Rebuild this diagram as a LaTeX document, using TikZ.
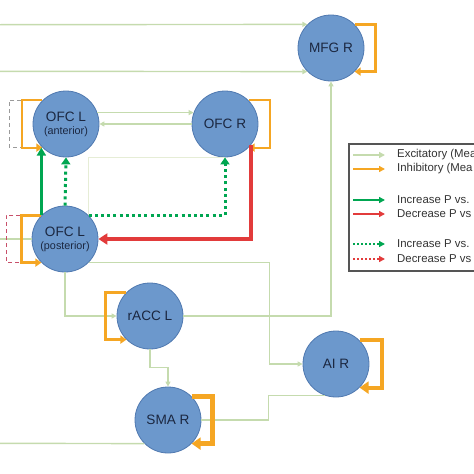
\documentclass[tikz,border=0pt]{standalone}
\usepackage{fontspec}
\setmainfont{Liberation Sans}
\usepackage{xcolor}
\usetikzlibrary{arrows.meta}

\definecolor{regiaoazul}{HTML}{6C98CC}
\definecolor{bordaazul}{HTML}{5079B0}
\definecolor{textoazul}{HTML}{1B2740}
\definecolor{excverde}{HTML}{C5DBAE}
\definecolor{fracoverde}{HTML}{E6EDD6}
\definecolor{inibaranja}{HTML}{F5A623}
\definecolor{aumverde}{HTML}{00A651}
\definecolor{quedaverm}{HTML}{E23B3B}
\definecolor{cinzatrac}{HTML}{9A9A9A}
\definecolor{vermtrac}{HTML}{C8506A}
\definecolor{legcinza}{HTML}{555555}

\newcommand{\subregiao}[1]{{\fontsize{10.8}{12}\selectfont #1}}

\begin{document}
\begin{tikzpicture}[x=1pt,y=-1pt,
    regiao/.style={circle,draw=bordaazul,line width=0.8pt,fill=regiaoazul,
        minimum size=66pt,inner sep=0pt,align=center,text=textoazul,
        font=\fontsize{13.6}{13}\selectfont},
    excit/.style={draw=excverde,line width=1.4pt,-{Triangle[length=5pt,width=5pt]}},
    fraca/.style={draw=fracoverde,line width=1.2pt},
    inib/.style={draw=inibaranja,line width=2.2pt,-{Triangle[length=6pt,width=8pt]}},
    inibforte/.style={draw=inibaranja,line width=4.4pt,-{Triangle[length=9pt,width=12pt]}},
    aumento/.style={draw=aumverde,line width=3.3pt,-{Triangle[length=8pt,width=9pt]}},
    aumentopont/.style={draw=aumverde,line width=3pt,dash pattern=on 3pt off 3.2pt,
        -{Triangle[length=7pt,width=9pt]}},
    queda/.style={draw=quedaverm,line width=4pt,-{Triangle[length=9pt,width=11pt]}},
    tracocinza/.style={draw=cinzatrac,line width=1pt,dash pattern=on 4pt off 3pt},
    tracoverm/.style={draw=vermtrac,line width=1.2pt,dash pattern=on 4pt off 3pt},
    legtexto/.style={anchor=west,inner sep=0pt,text=black!80,font=\fontsize{11.4}{12}\selectfont},
    legamostra/.style={line width=2.4pt,-{Triangle[length=6pt,width=6pt]}}
]
    \useasboundingbox (0,0) rectangle (474,474);

    % Regioes
    \node[regiao] (mfgr)  at (331,48)  {MFG R};
    \node[regiao] (ofcla) at (66,124)  {OFC L\\\subregiao{(anterior)}};
    \node[regiao] (ofcr)  at (225,124) {OFC R};
    \node[regiao] (ofclp) at (65,239)  {OFC L\\\subregiao{(posterior)}};
    \node[regiao] (raccl) at (150,316) {rACC L};
    \node[regiao] (air)   at (336,364) {AI R};
    \node[regiao] (smar)  at (168,420) {SMA R};

    % Entradas vindas da borda esquerda
    \coordinate (ent1) at (0,24.7);
    \coordinate (ent2) at (0,71.3);
    \coordinate (ent3) at (0,239);
    \coordinate (ent4) at (0,443.3);

    % Conexoes excitatorias (verde claro)
    \draw[excit] (ent1) -- (mfgr.north west);
    \draw[excit] (ent2) -- (mfgr.south west);
    \draw[excit] (ofcla.20) -- (ofcr.160);
    \draw[excit] (ofcr.west) -- (ofcla.east);
    \draw[excit,-] (ent3) -- (ofclp.west);
    \draw[fraca] (ofcr.south) -| (ofclp.45);
    \draw[excit] (ofclp.-45) -- ++(181,0) |- (air.west);
    \draw[excit] (ofclp.south) |- (raccl.west);
    \draw[excit] (raccl.east) -| (mfgr.south);
    \draw[excit] (raccl.south) -- ++(0,18) -| (smar.north);
    \draw[excit,-] (air.250) -- ++(-56,0) |- (smar.east);
    \draw[excit,-] (ent4) -- (smar.225);

    % Auto-conexoes inibitorias (laranja)
    \draw[tracocinza] (ofcla.135) -- ++(-33,0) |- (ofcla.225);
    \draw[inib] (ofcla.135) -- ++(-20,0) |- (ofcla.225);
    \draw[tracoverm] (ofclp.135) -- ++(-35,0) |- (ofclp.225);
    \draw[inib,line width=2.5pt] (ofclp.135) -- ++(-20,0) |- (ofclp.225);
    \draw[inib,line width=2pt] (ofcr.45) -- ++(21,0) |- (ofcr.-45);
    \draw[inib,line width=2.6pt] (mfgr.45) -- ++(21,0) |- (mfgr.-45);
    \draw[inib,line width=2.6pt] (raccl.135) -- ++(-21,0) |- (raccl.225);
    \draw[inibforte] (smar.45) -- ++(21,0) |- (smar.-45);
    \draw[inibforte,line width=4pt] (air.45) -- ++(22,0) |- (air.-45);

    % Efeitos P vs. (verde aumento, vermelho queda)
    \draw[aumento] (ofclp.135) -- (ofclp.135 |- ofcla.225);
    \draw[aumentopont] (ofclp.north) -- (ofcla.south);
    \draw[aumentopont] (ofclp.45) -| (ofcr.south);
    \draw[queda] (ofcr.-40) |- (ofclp.east);

    % Legenda
    \draw[line width=1.3pt,draw=legcinza] (349,144) rectangle (495,271);
    \node[legtexto] (leg1) at (397,155) {Excitatory (Mea};
    \node[legtexto] (leg2) at (397,169) {Inhibitory (Mea};
    \node[legtexto] (leg3) at (397,200) {Increase P vs.};
    \node[legtexto] (leg4) at (397,214) {Decrease P vs};
    \node[legtexto] (leg5) at (397,244) {Increase P vs.};
    \node[legtexto] (leg6) at (397,259) {Decrease P vs};
    \draw[legamostra,draw=excverde] ([xshift=-44pt]leg1.west) -- ([xshift=-12pt]leg1.west);
    \draw[legamostra,draw=inibaranja] ([xshift=-44pt]leg2.west) -- ([xshift=-12pt]leg2.west);
    \draw[legamostra,draw=aumverde] ([xshift=-44pt]leg3.west) -- ([xshift=-12pt]leg3.west);
    \draw[legamostra,draw=quedaverm] ([xshift=-44pt]leg4.west) -- ([xshift=-12pt]leg4.west);
    \draw[legamostra,draw=aumverde,dash pattern=on 2pt off 2pt] ([xshift=-44pt]leg5.west) -- ([xshift=-12pt]leg5.west);
    \draw[legamostra,draw=quedaverm,dash pattern=on 2pt off 2pt] ([xshift=-44pt]leg6.west) -- ([xshift=-12pt]leg6.west);

\end{tikzpicture}
\end{document}
